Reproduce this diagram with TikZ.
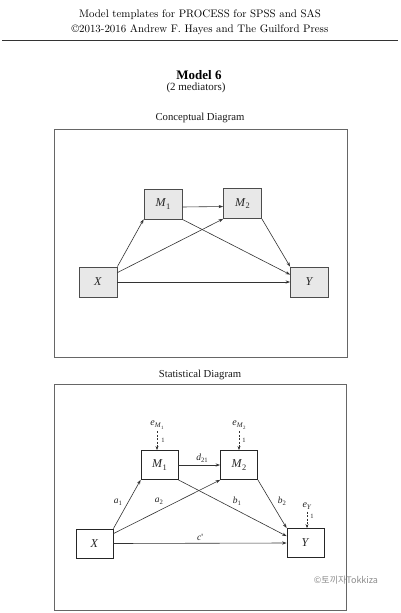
\documentclass[tikz,border=0pt]{standalone}
\usepackage{fontspec}
\usepackage{graphicx}
\usetikzlibrary{arrows.meta}
\newfontfamily\tnr{Liberation Serif}
\newfontfamily\krfont{Noto Sans CJK KR}
\newcommand{\vsub}[2]{\textit{#1}\raisebox{-0.45ex}{\scalebox{0.7}{#2}}}
\tikzset{
  cbox/.style={draw=black!70, fill=black!9, line width=0.8pt, minimum width=38pt, minimum height=30pt, inner sep=0pt, font=\tnr\fontsize{12}{14}\selectfont, text=black!85},
  sbox/.style={draw=black!85, fill=white, line width=0.8pt, minimum width=37pt, minimum height=29pt, inner sep=0pt, font=\tnr\fontsize{12}{14}\selectfont, text=black!85},
  arr/.style={-{Stealth[length=4.5pt,width=3.2pt]}, line width=0.6pt, draw=black!80},
  darr/.style={-{Stealth[length=4pt,width=3pt]}, line width=0.7pt, draw=black!80, dash pattern=on 2pt off 1.5pt},
  elab/.style={font=\tnr\fontsize{9.5}{11}\selectfont, text=black!85, inner sep=0pt},
  errlab/.style={font=\tnr\fontsize{10}{11}\selectfont, text=black!85, inner sep=0pt},
  onelab/.style={font=\tnr\fontsize{6.5}{7}\selectfont, text=black!85, inner sep=0pt},
  frame/.style={draw=black!60, line width=1pt},
  ttl/.style={font=\tnr\fontsize{10.7}{12}\selectfont, text=black!90, inner sep=0pt},
}
\begin{document}
\begin{tikzpicture}[x=1pt,y=-1pt]
\useasboundingbox (0,0) rectangle (400,613);
\fill[white] (0,0) rectangle (400,613);
% header
\node[inner sep=0pt, font=\fontsize{10.9}{12}\selectfont] (h1) at (200,15) {Model templates for PROCESS for SPSS and SAS};
\node[inner sep=0pt, font=\fontsize{10.9}{12}\selectfont] (h2) at (200,30) {\copyright2013-2016 Andrew F. Hayes and The Guilford Press};
\coordinate (rl) at (2,40);
\coordinate (rr) at (398,40);
\draw[line width=0.8pt, black!80] (rl) -- (rr);
\node[inner sep=0pt, font=\tnr\bfseries\fontsize{13}{14}\selectfont] (t1) at (199,75) {Model 6};
\node[ttl, font=\tnr\fontsize{11}{12}\selectfont] (t2) at (196,88) {(2 mediators)};
\node[ttl] (t3) at (200,118) {Conceptual Diagram};
\node[ttl] (t4) at (200,375) {Statistical Diagram};
% frames
\coordinate (f1a) at (54,129);
\coordinate (f1b) at (347,357);
\draw[frame] (f1a) rectangle (f1b);
\coordinate (f2a) at (54,384);
\coordinate (f2b) at (346,610);
\draw[frame] (f2a) rectangle (f2b);
% conceptual
\node[cbox] (cM1) at (163,204) {\vsub{M}{1}};
\node[cbox] (cM2) at (242.5,203.5) {\vsub{M}{2}};
\node[cbox] (cX) at (98,282) {\textit{X}};
\node[cbox] (cY) at (309.5,282) {\textit{Y}};
\draw[arr] (cX.north east) -- (cM1.south west);
\draw[arr] ([yshift=-6pt]cX.north east) -- (cM2.south west);
\draw[arr] ([yshift=-3pt]cM1.east) -- ([yshift=-3pt]cM2.west);
\draw[arr] (cM1.south east) -- ([yshift=-8pt]cY.north west);
\draw[arr] (cM2.south east) -- (cY.north west);
\draw[arr] (cX.east) -- (cY.west);
% statistical
\node[sbox] (sM1) at (159.5,465) {\vsub{M}{1}};
\node[sbox] (sM2) at (239,465) {\vsub{M}{2}};
\node[sbox] (sX) at (94.5,543.5) {\textit{X}};
\node[sbox] (sY) at (305.5,543) {\textit{Y}};
\draw[arr] (sX.north east) -- (sM1.south west);
\draw[arr] ([yshift=-5pt]sX.north east) -- (sM2.south west);
\draw[arr] (sM1.east) -- (sM2.west);
\draw[arr] (sM1.south east) -- ([yshift=-8pt]sY.north west);
\draw[arr] (sM2.south east) -- (sY.north west);
\draw[arr] (sX.east) -- (sY.west);
% error terms
\node[errlab] (eM1) at (157,425) {\vsub{e}{\vsub{M}{1}}};
\node[errlab] (eM2) at (239,425) {\vsub{e}{\vsub{M}{2}}};
\node[errlab] (eY) at (307,506) {\vsub{e}{\textit{Y}}};
\draw[darr] ([yshift=-2pt]eM1.south) -- (eM1.south |- sM1.north);
\draw[darr] ([yshift=-2pt]eM2.south) -- (eM2.south |- sM2.north);
\draw[darr] ([yshift=-2pt]eY.south) -- (eY.south |- sY.north);
\node[onelab] (o1) at (163,440) {1};
\node[onelab] (o2) at (244,440) {1};
\node[onelab] (o3) at (312,516) {1};
% path labels
\node[elab] (ld) at (202,458) {\vsub{d}{21}};
\node[elab] (la1) at (118,502) {\vsub{a}{1}};
\node[elab] (la2) at (159,501) {\vsub{a}{2}};
\node[elab] (lb1) at (237,501) {\vsub{b}{1}};
\node[elab] (lb2) at (282,501) {\vsub{b}{2}};
\node[elab] (lc) at (200,537) {\textit{c}'};
% watermark
\node[inner sep=0pt, text=black!45, font=\krfont\fontsize{9}{10}\selectfont] (wm) at (346,580) {©토끼자Tokkiza};
\end{tikzpicture}
\end{document}
